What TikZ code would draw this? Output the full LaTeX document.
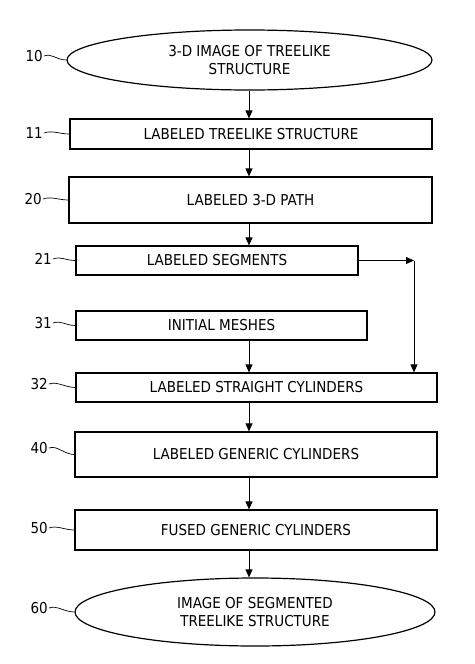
\documentclass[tikz,border=0pt]{standalone}
\usepackage{fontspec}
\setmainfont{DejaVu Sans}[FakeStretch=0.9]
\usetikzlibrary{shapes.geometric,arrows.meta}

\begin{document}
\begin{tikzpicture}[x=1pt,y=-1pt,
		every node/.style={font=\fontsize{15}{18}\selectfont},
		blk/.style={draw,line width=1.2pt,rectangle,inner sep=0pt},
		oval/.style={draw,line width=1.2pt,ellipse,inner sep=0pt,align=center},
		num/.style={inner sep=1pt,anchor=east},
		arr/.style={line width=1pt,-{Triangle[length=8pt,width=7pt]}},
		lead/.style={line width=0.7pt}]
		\useasboundingbox (0,0) rectangle (474,664);
		\coordinate (axis) at (249,0);
		
		\node[oval,minimum width=365,minimum height=60] (e10) at (249.5,60) {3-D IMAGE OF TREELIKE\\STRUCTURE};
		\node[blk,minimum width=362,minimum height=30] (b11) at (251,134) {LABELED TREELIKE STRUCTURE};
		\node[blk,minimum width=363,minimum height=46] (b20) at (250.5,200) {LABELED 3-D PATH};
		\node[blk,minimum width=282,minimum height=29] (b21) at (217,260.5) {LABELED SEGMENTS};
		\node[blk,minimum width=291,minimum height=29] (b31) at (221.5,325.5) {INITIAL MESHES};
		\node[blk,minimum width=361,minimum height=29] (b32) at (256.5,387.5) {LABELED STRAIGHT CYLINDERS};
		\node[blk,minimum width=362,minimum height=45] (b40) at (256,454.5) {LABELED GENERIC CYLINDERS};
		\node[blk,minimum width=362,minimum height=40] (b50) at (256,530) {FUSED GENERIC CYLINDERS};
		\node[oval,minimum width=360,minimum height=68] (e60) at (255,612) {IMAGE OF SEGMENTED\\TREELIKE STRUCTURE};
		
		\node[num] (n10) at (44,56) {10};
		\node[num] (n11) at (44,133) {11};
		\node[num] (n20) at (43,199) {20};
		\node[num] (n21) at (53,259) {21};
		\node[num] (n31) at (53,323) {31};
		\node[num] (n32) at (49,384) {32};
		\node[num] (n40) at (49,448) {40};
		\node[num] (n50) at (49,528) {50};
		\node[num] (n60) at (49,608) {60};
		
		\draw[lead] (n10.east) .. controls +(8,-3) and +(-10,0) .. (e10.west);
		\draw[lead] (n11.east) .. controls +(8,-3) and +(-10,0) .. (b11.west);
		\draw[lead] (n20.east) .. controls +(8,-3) and +(-10,0) .. (b20.west);
		\draw[lead] (n21.east) .. controls +(8,-3) and +(-10,0) .. (b21.west);
		\draw[lead] (n31.east) .. controls +(8,-3) and +(-10,0) .. (b31.west);
		\draw[lead] (n32.east) .. controls +(8,-3) and +(-10,0) .. (b32.west);
		\draw[lead] (n40.east) .. controls +(8,-3) and +(-10,0) .. (b40.west);
		\draw[lead] (n50.east) .. controls +(8,-3) and +(-10,0) .. (b50.west);
		\draw[lead] (n60.east) .. controls +(8,-3) and +(-10,0) .. (e60.west);
		
		\draw[arr] (e10.south -| axis) -- (b11.north -| axis);
		\draw[arr] (b11.south -| axis) -- (b20.north -| axis);
		\draw[arr] (b20.south -| axis) -- (b21.north -| axis);
		\draw[arr] (b31.south -| axis) -- (b32.north -| axis);
		\draw[arr] (b32.south -| axis) -- (b40.north -| axis);
		\draw[arr] (b40.south -| axis) -- (b50.north -| axis);
		\draw[arr] (b50.south -| axis) -- (e60.north -| axis);
		
		\coordinate (bend) at (414,260.5);
		\draw[arr] (b21.east) -- (bend);
		\draw[arr] (bend) -- (bend |- b32.north);
\end{tikzpicture}
\end{document}
